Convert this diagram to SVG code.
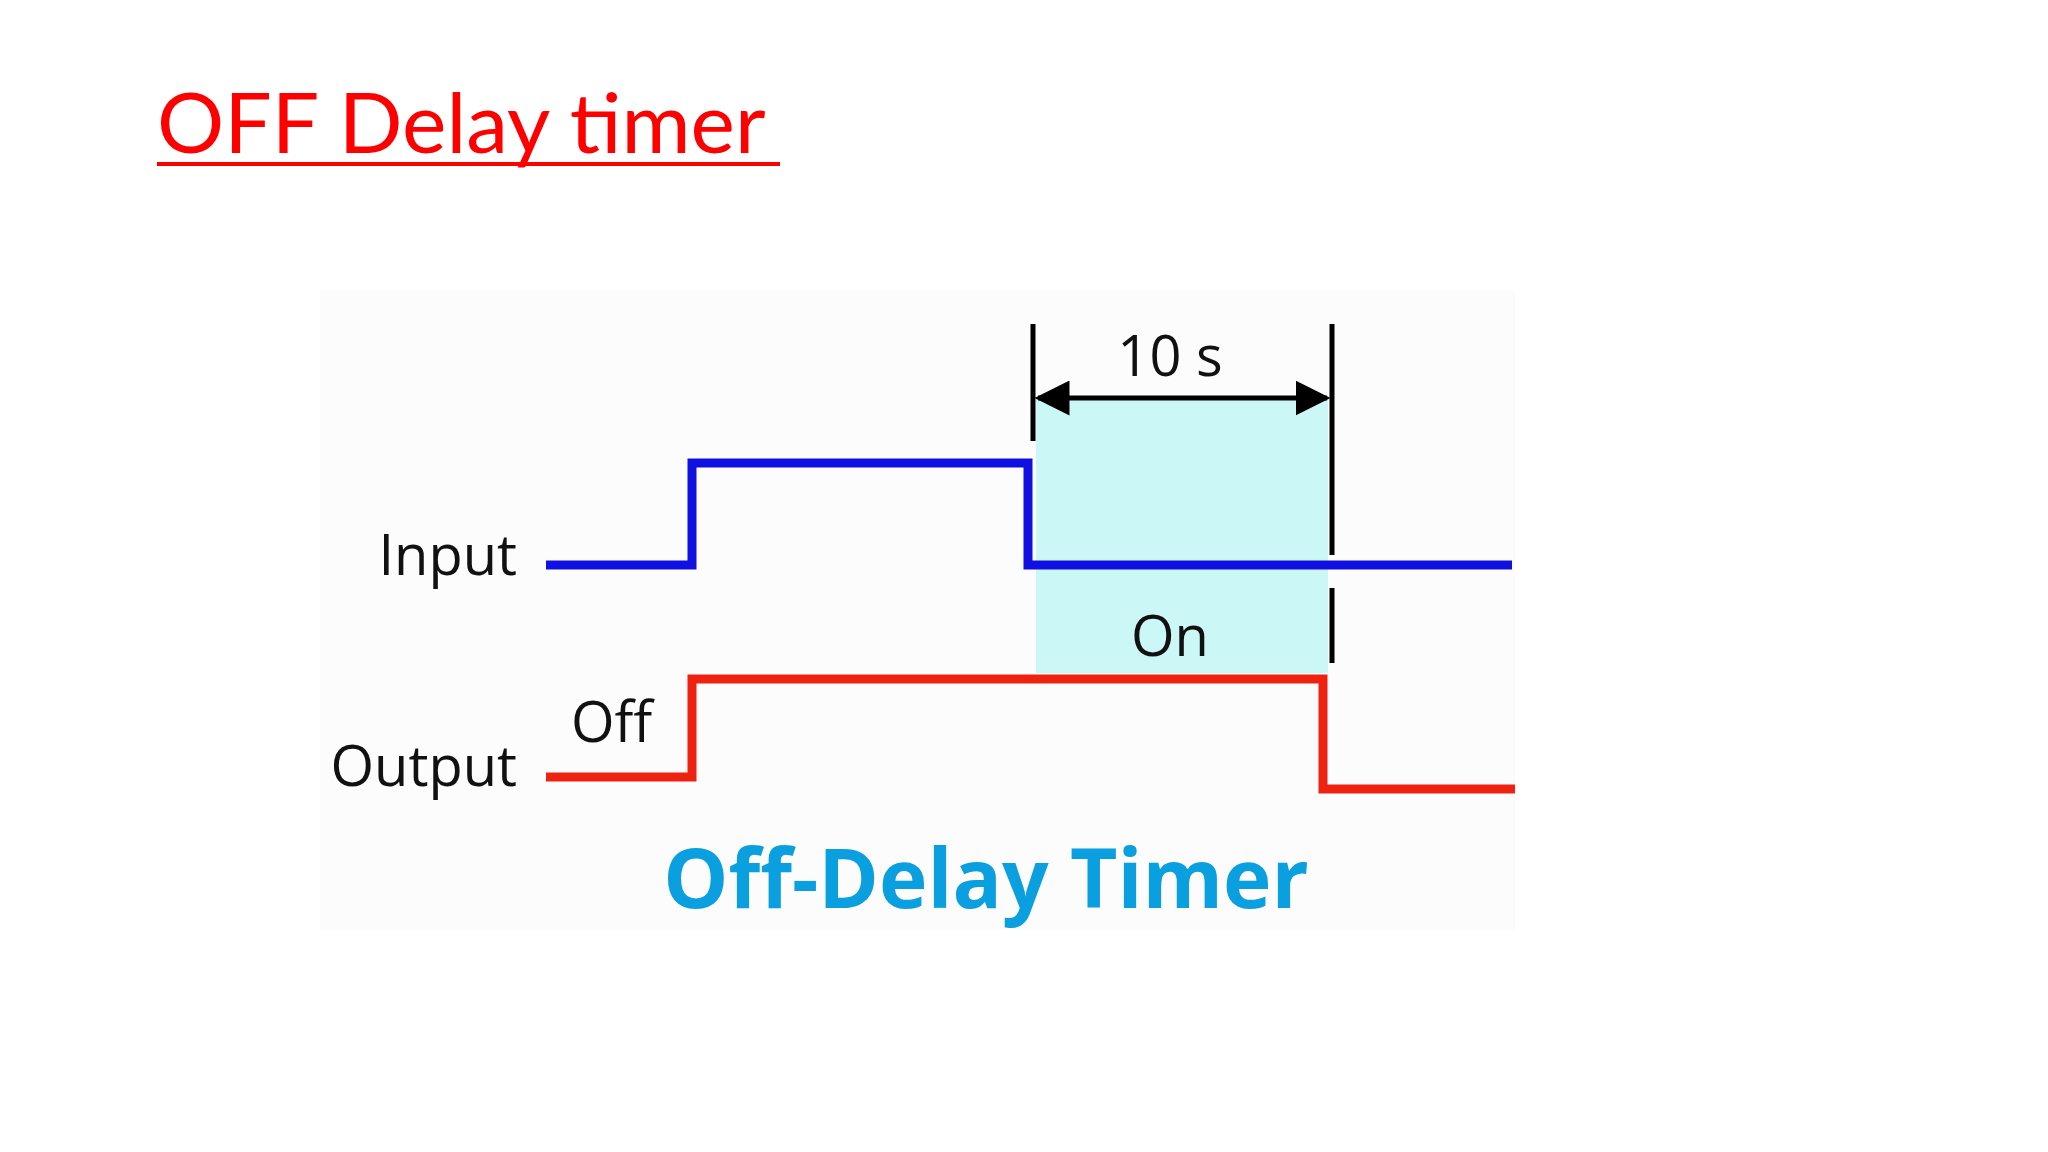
<svg xmlns="http://www.w3.org/2000/svg" width="2048" height="1152" viewBox="0 0 2048 1152">
<defs>
<style>
.lbl{font-family:"Open Sans","Liberation Sans",sans-serif;font-size:56px;fill:#111}
.tick{stroke:#000;stroke-width:5;fill:none}
</style>
<marker id="ah" viewBox="0 0 10 10" refX="9" refY="5" markerWidth="7" markerHeight="7" orient="auto-start-reverse"><path d="M0,0L10,5L0,10z" fill="#000"/></marker>
</defs>
<rect width="2048" height="1152" fill="#fff"/>
<g id="title">
<text x="157" y="153" font-family="Lato, Liberation Sans, sans-serif" font-size="84" fill="#f00">OFF Delay timer</text>
<line x1="157" y1="164" x2="780" y2="164" stroke="#f00" stroke-width="4"/>
</g>
<rect x="320" y="290" width="1195" height="640" fill="#fcfcfc"/>
<rect id="window" x="1036" y="398" width="292" height="275" fill="#ccf7f7"/>
<g id="connectors">
<line class="tick" x1="1033" y1="324" x2="1033" y2="441"/>
<line class="tick" x1="1332" y1="324" x2="1332" y2="555"/>
<line class="tick" x1="1332" y1="588" x2="1332" y2="663"/>
<line x1="1038" y1="398" x2="1327" y2="398" stroke="#000" stroke-width="5" marker-start="url(#ah)" marker-end="url(#ah)"/>
<polyline id="input" points="546,565 692,565 692,463 1028,463 1028,565 1512,565" fill="none" stroke="#1010e0" stroke-width="9"/>
<polyline id="output" points="546,777 692,777 692,679 1323,679 1323,789 1515,789" fill="none" stroke="#ee2211" stroke-width="9"/>
</g>
<g id="labels">
<text class="lbl" x="1170" y="376" text-anchor="middle">10 s</text>
<text class="lbl" x="517" y="575" text-anchor="end">Input</text>
<text class="lbl" x="517" y="786" text-anchor="end">Output</text>
<text class="lbl" x="571" y="742">Off</text>
<text class="lbl" x="1170" y="656" text-anchor="middle">On</text>
<text x="986" y="908" text-anchor="middle" font-family="Open Sans, Liberation Sans, sans-serif" font-weight="bold" font-size="82" fill="#0aa0e0">Off-Delay Timer</text>
</g>
</svg>
